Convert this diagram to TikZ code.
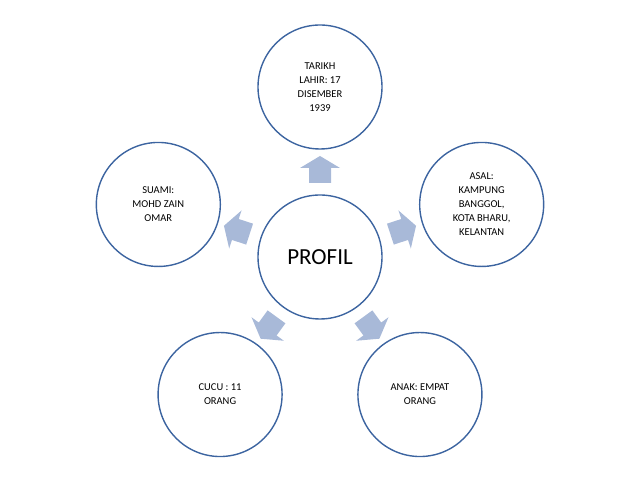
\documentclass[tikz,border=0pt]{standalone}
\usepackage{fontspec}
\setmainfont{Carlito}
\usetikzlibrary{calc}
\definecolor{ring}{HTML}{3C64A0}
\definecolor{arr}{HTML}{A8B9D8}
\begin{document}
\begin{tikzpicture}[x=1pt,y=1pt,
  circ/.style={circle,draw=ring,line width=1.4pt,minimum size=124pt,inner sep=0pt,align=center,font=\fontsize{10.5}{14}\selectfont},
  blk/.style={fill=arr,draw=none}]
\useasboundingbox (0,0) rectangle (638,478);
\node[circ,font=\fontsize{23}{26}\selectfont] (c) at (320,221) {PROFIL};
\foreach \a/\n/\t in {90/t/{TARIKH\\LAHIR: 17\\DISEMBER\\1939},18/r/{ASAL:\\KAMPUNG\\BANGGOL,\\KOTA BHARU,\\KELANTAN},-54/br/{ANAK: EMPAT\\ORANG},-126/bl/{CUCU : 11\\ORANG},162/l/{SUAMI:\\MOHD ZAIN\\OMAR}}{
  \node[circ] (\n) at ($(320,221)+(\a:170)$) {\t};
  \begin{scope}[shift={(c.center)},rotate=\a]
    \fill[blk] (74,-11) -- (89,-11) -- (89,-20) -- (101,0) -- (89,20) -- (89,11) -- (74,11) -- cycle;
  \end{scope}
}
\end{tikzpicture}
\end{document}
